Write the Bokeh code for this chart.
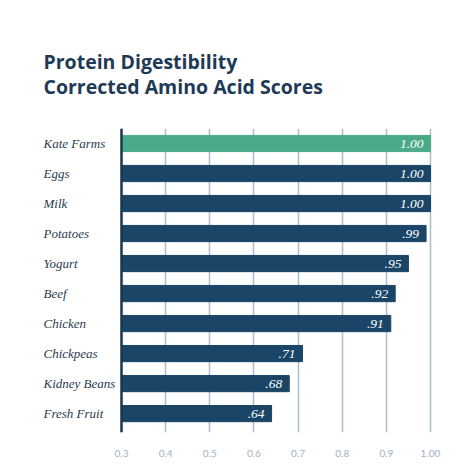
from bokeh.plotting import figure
from bokeh.models import Range1d, FixedTicker, ColumnDataSource, Title, Span
from bokeh.core.properties import value
from bokeh.embed import file_html
from bokeh.resources import INLINE

# ---- data ----
categories = ["Kate Farms", "Eggs", "Milk", "Potatoes", "Yogurt", "Beef",
              "Chicken", "Chickpeas", "Kidney Beans", "Fresh Fruit"]
scores = [1.00, 1.00, 1.00, 0.99, 0.95, 0.92, 0.91, 0.71, 0.68, 0.64]
score_labels = ["1.00", "1.00", "1.00", ".99", ".95", ".92", ".91", ".71", ".68", ".64"]
highlight = ["Kate Farms"]
tick_values = [0.3, 0.4, 0.5, 0.6, 0.7, 0.8, 0.9, 1.0]
tick_labels = ["0.3", "0.4", "0.5", "0.6", "0.7", "0.8", "0.9", "1.00"]
title_lines = ["Protein Digestibility", "Corrected Amino Acid Scores"]

NAVY = "#1a4566"
GREEN = "#4aaa88"
X0 = 0.3
X1 = 1.0

# frame spans the whole width; axis 0.3..1.0 occupies pixels 121..430
PX_PER_UNIT = (430 - 121) / (X1 - X0)
x_start = X0 - 121 / PX_PER_UNIT
x_end = X1 + (474 - 430) / PX_PER_UNIT

src = ColumnDataSource(dict(
    cat=categories,
    pos=list(range(len(categories))),
    score=scores,
    lbl=score_labels,
    color=[GREEN if c in highlight else NAVY for c in categories],
))

p = figure(width=474, height=474, output_backend="svg", toolbar_location=None,
           x_range=Range1d(x_start, x_end), y_range=Range1d(len(categories) - 1 + 0.63, -0.5),
           min_border=0, min_border_left=0, min_border_right=0,
           min_border_top=128, min_border_bottom=42,
           background_fill_color="white", border_fill_color="white", outline_line_color=None)

t = Title(text="\n".join(title_lines), align="left", offset=43,
          text_font="Open Sans", text_font_size="19.5px", text_font_style="bold",
          text_color="#1f3a56", text_line_height=0.95, standoff=56)
p.add_layout(t, "above")

p.hbar(y="pos", left=X0, right="score", height=0.54, color="color", source=src)

p.text(x=X0, y="pos", text="cat", x_offset=-78, source=src,
       text_font=value("Liberation Serif"), text_font_style="italic",
       text_font_size="13px", text_color="#2b3b4f",
       text_align="left", text_baseline="middle")

p.text(x="score", y="pos", text="lbl", x_offset=-7, source=src,
       text_font=value("Liberation Serif"), text_font_style="italic",
       text_font_size="13.5px", text_color="white",
       text_align="right", text_baseline="middle")

# axes
p.xaxis.ticker = FixedTicker(ticks=tick_values)
p.xaxis.major_label_overrides = {v: l for v, l in zip(tick_values, tick_labels)}
p.xaxis.axis_line_color = None
p.xaxis.major_tick_line_color = None
p.xaxis.minor_tick_line_color = None
p.xaxis.major_label_standoff = 11
p.xaxis.major_label_text_font = "Lato"
p.xaxis.major_label_text_font_size = "10px"
p.xaxis.major_label_text_color = "#9db1c3"

p.yaxis.visible = False

p.xgrid.ticker = FixedTicker(ticks=tick_values)
p.xgrid.grid_line_color = "#a9bdcd"
p.xgrid.grid_line_width = 1.5
p.ygrid.grid_line_color = None

p.add_layout(Span(location=X0, dimension="height", line_color="#1d3850", line_width=2.5))

open("out.html", "w").write(file_html(p, INLINE))
